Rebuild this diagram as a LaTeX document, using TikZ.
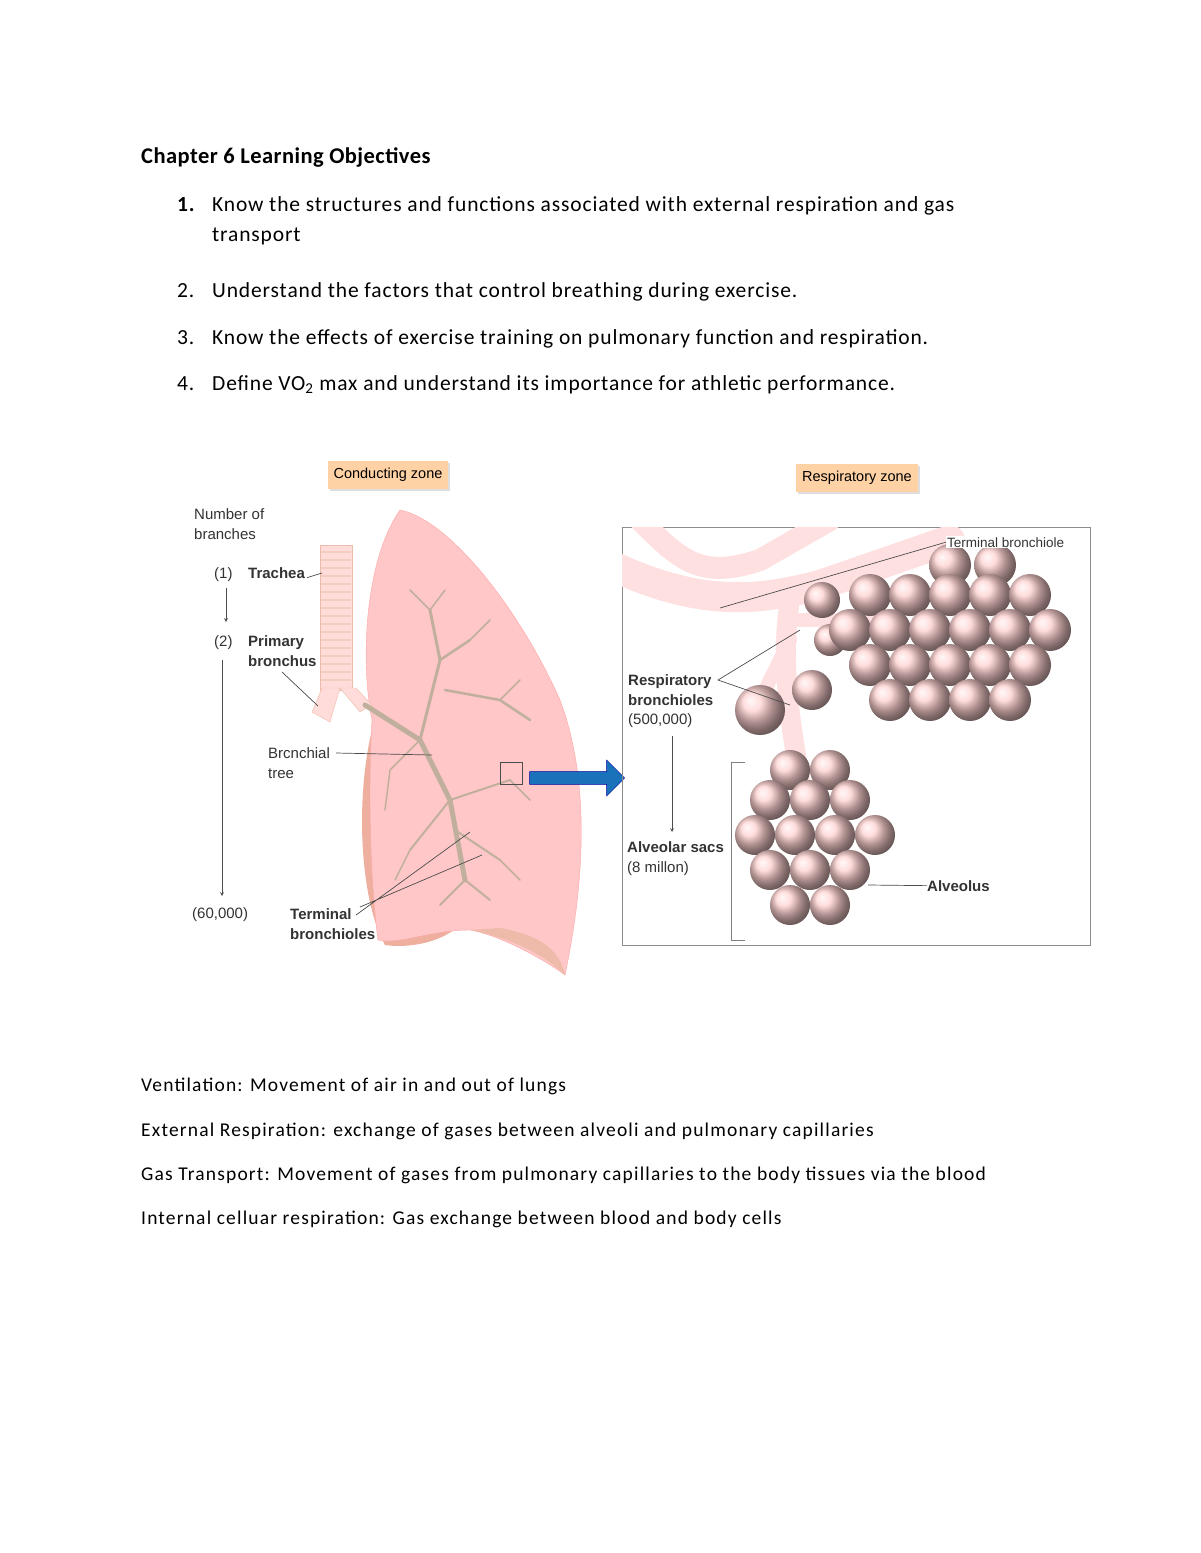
\documentclass[tikz,border=0pt]{standalone}
\usepackage{fontspec}
\setmainfont{Carlito}
\newfontfamily\arialf{Liberation Sans}
\usetikzlibrary{shapes.arrows,shadows}
\begin{document}
\begin{tikzpicture}[x=1pt,y=-1pt,
  body/.style={anchor=base west,font=\addfontfeatures{LetterSpace=4}\fontsize{21.5}{24}\selectfont,inner sep=0},
  foot/.style={anchor=base west,font=\addfontfeatures{LetterSpace=6}\fontsize{19.5}{22}\selectfont,inner sep=0},
  lab/.style={anchor=base west,font=\arialf\fontsize{15}{18}\selectfont,inner sep=0,text=black!80},
  labb/.style={lab,font=\arialf\bfseries\fontsize{15}{18}\selectfont},
  lead/.style={draw=black!70,line width=0.7pt},
  zone/.style={fill=orange!35,draw=none,font=\arialf\fontsize{14.5}{17}\selectfont,inner xsep=6pt,inner ysep=7pt,drop shadow={shadow xshift=2pt,shadow yshift=-2pt,fill=black!25}},
  tube/.style={draw=red!12!white,line cap=round},
  alv/.style={ball color=red!18!white}
]
\useasboundingbox (0,0) rectangle (1200,1553);
\fill[white] (0,0) rectangle (1200,1553);
% heading and objectives
\node[body,font=\bfseries\addfontfeatures{LetterSpace=2}\fontsize{22.5}{24}\selectfont] (title) at (141,163) {Chapter 6 Learning Objectives};
\node[body] (n1) at (177,211) {\textbf{1.}};
\node[body] (o1) at (212,211) {Know the structures and functions associated with external respiration and gas};
\node[body] (o1b) at (212,241) {transport};
\node[body] (n2) at (177,297) {2.};
\node[body] (o2) at (212,297) {Understand the factors that control breathing during exercise.};
\node[body] (n3) at (177,344) {3.};
\node[body] (o3) at (212,344) {Know the effects of exercise training on pulmonary function and respiration.};
\node[body] (n4) at (177,390) {4.};
\node[body] (o4) at (212,390) {Define V\kern0.5ptO\textsubscript{2} max and understand its importance for athletic performance.};
% zones
\node[zone] (cz) at (388,475) {Conducting zone};
\node[zone] (rz) at (857,478) {Respiratory zone};
% lung
\fill[red!40!brown!45] (372,730) .. controls (355,800) and (360,900) .. (385,945) .. controls (420,950) and (470,935) .. (470,900) -- (420,760) -- cycle;
\fill[red!22!white, draw=red!35!white] (400,510) .. controls (450,520) and (520,610) .. (560,700)
  .. controls (590,780) and (585,880) .. (565,975) .. controls (545,960) and (500,935) .. (470,930)
  .. controls (430,930) and (400,945) .. (378,940) .. controls (370,880) and (368,790) .. (372,720)
  .. controls (360,660) and (365,560) .. (400,510) -- cycle;
\fill[red!35!brown!40] (470,930) .. controls (520,940) and (550,960) .. (565,975) .. controls (560,950) and (540,935) .. (500,928) -- cycle;
% trachea
\fill[orange!18!red!15!white,draw=red!30!brown!40] (320,545) rectangle (352,690);
\foreach \yy in {552,560,...,686} \draw[red!30!brown!30,line width=1.5pt] (321,\yy) -- (351,\yy);
\fill[orange!18!red!15!white,draw=red!30!brown!40] (322,688) -- (340,688) -- (330,722) -- (312,712) -- cycle;
\fill[orange!18!red!15!white,draw=red!30!brown!40] (340,688) -- (356,688) -- (372,705) -- (360,712) -- cycle;
% bronchial tree
\begin{scope}[draw=brown!60!black!45,line cap=round]
\draw[line width=5pt] (365,705) -- (420,740) -- (450,800) -- (465,880);
\draw[line width=3pt] (420,740) -- (440,660) -- (430,610);
\draw[line width=2.5pt] (440,660) -- (470,640) (445,690) -- (500,700) -- (530,720);
\draw[line width=2pt] (450,800) -- (510,780) (455,830) -- (500,860) (450,800) -- (410,850) (465,880) -- (440,905) (465,880) -- (490,900);
\draw[line width=1.5pt] (430,610) -- (410,590) (430,610) -- (445,590) (470,640) -- (490,620) (500,700) -- (520,680) (410,850) -- (395,880) (500,860) -- (520,880) (510,780) -- (530,800) (420,740) -- (390,770) -- (385,810);
\end{scope}
\node[draw=black!70,minimum size=22pt,inner sep=0] (sq) at (511,773) {};
\node[single arrow,fill=blue!45!cyan!70!black!90,draw=blue!60!black,minimum height=95pt,minimum width=36pt,single arrow head extend=4pt,inner sep=2pt] (bar) at (574,778) {};
% left labels
\node[lab] (nb1) at (194,519) {Number of};
\node[lab] (nb2) at (194,539) {branches};
\node[lab] (c1) at (214,578) {(1)};
\node[labb] (tr) at (248,578) {Trachea};
\coordinate (trend) at (322,573);
\draw[lead] (tr.east) ++(2pt,-5pt) -- (trend);
\coordinate (a1s) at (226,588); \coordinate (a1e) at (226,622);
\draw[lead,-stealth] (a1s) -- (a1e);
\node[lab] (c2) at (214,646) {(2)};
\node[labb] (pb1) at (248,646) {Primary};
\node[labb] (pb2) at (248,666) {bronchus};
\coordinate (pbs) at (282,672); \coordinate (pbe) at (318,706);
\draw[lead] (pbs) -- (pbe);
\coordinate (a2s) at (222,660); \coordinate (a2e) at (222,896);
\draw[lead,-stealth] (a2s) -- (a2e);
\node[lab] (c3) at (192,918) {(60,000)};
\node[labb] (tb1) at (290,919) {Terminal};
\node[labb] (tb2) at (290,939) {bronchioles};
\coordinate (tbe1) at (470,832); \coordinate (tbe2) at (482,855); \coordinate (tbs) at (356,915);
\draw[lead] (tbs) -- (tbe1) (tbs) ++(4pt,8pt) -- (tbe2);
\node[lab] (bt1) at (268,758) {Brcnchial};
\node[lab] (bt2) at (268,778) {tree};
\coordinate (bts) at (336,753); \coordinate (bte) at (432,755);
\draw[lead] (bts) -- (bte);
% right box
\node[draw=black!45,line width=1.2pt,minimum width=468pt,minimum height=418pt,anchor=north west,inner sep=0] (box) at (622,527) {};
\begin{scope}
\clip (622,527) rectangle (1090,945);
\draw[tube,line width=30pt] (600,560) .. controls (700,610) and (760,600) .. (820,585) -- (950,540);
\draw[tube,line width=22pt] (640,520) .. controls (680,560) and (700,580) .. (760,560) -- (830,520);
\draw[tube,line width=20pt] (790,600) .. controls (780,660) and (790,720) .. (800,780);
\draw[tube,line width=14pt] (790,640) -- (760,700);
\draw[tube,line width=14pt] (800,620) -- (870,620);
\end{scope}
\foreach \x/\y/\r in {822/600/18,830/640/16,812/690/20,760/710/25,
  950/565/21,995/565/21,
  870/595/21,910/595/21,950/595/21,990/595/21,1030/595/21,
  850/630/21,890/630/21,930/630/21,970/630/21,1010/630/21,1050/630/21,
  870/665/21,910/665/21,950/665/21,990/665/21,1030/665/21,
  890/700/21,930/700/21,970/700/21,1010/700/21,
  790/770/20,830/770/20,
  770/800/20,810/800/20,850/800/20,
  755/835/20,795/835/20,835/835/20,875/835/20,
  770/870/20,810/870/20,850/870/20,
  790/905/20,830/905/20}
  \shade[alv] (\x,\y) circle[radius=\r];
\node[lab,font=\arialf\fontsize{13.5}{16}\selectfont,fill=white,inner sep=1pt] (trb) at (946,547) {Terminal bronchiole};
\coordinate (trbe) at (720,608);
\draw[lead] (trb.west) -- (trbe);
\node[labb] (rb1) at (628,685) {Respiratory};
\node[labb] (rb2) at (628,705) {bronchioles};
\node[lab] (rb3) at (628,724) {(500,000)};
\coordinate (rbs) at (718,680); \coordinate (rbe1) at (800,630); \coordinate (rbe2) at (790,705);
\draw[lead] (rbe1) -- (rbs) -- (rbe2);
\coordinate (a3s) at (672,736); \coordinate (a3e) at (672,832);
\draw[lead,-stealth] (a3s) -- (a3e);
\node[labb] (as1) at (627,852) {Alveolar sacs};
\node[lab] (as2) at (627,872) {(8 millon)};
\node[labb] (alv) at (927,891) {Alveolus};
\coordinate (alvs) at (868,885);
\draw[lead] (alvs) -- (alv.west);
\coordinate (br1) at (745,762); \coordinate (br2) at (745,940);
\draw[draw=black!50] (br1) -- ++(-14pt,0) -- ([xshift=-14pt]br2) -- (br2);
% bottom definitions
\node[foot] (d1) at (141,1091) {Ventilation: Movement of air in and out of lungs};
\node[foot] (d2) at (141,1136) {External Respiration: exchange of gases between alveoli and pulmonary capillaries};
\node[foot] (d3) at (141,1180) {Gas Transport: Movement of gases from pulmonary capillaries to the body tissues via the blood};
\node[foot] (d4) at (141,1224) {Internal celluar respiration: Gas exchange between blood and body cells};
\end{tikzpicture}
\end{document}
